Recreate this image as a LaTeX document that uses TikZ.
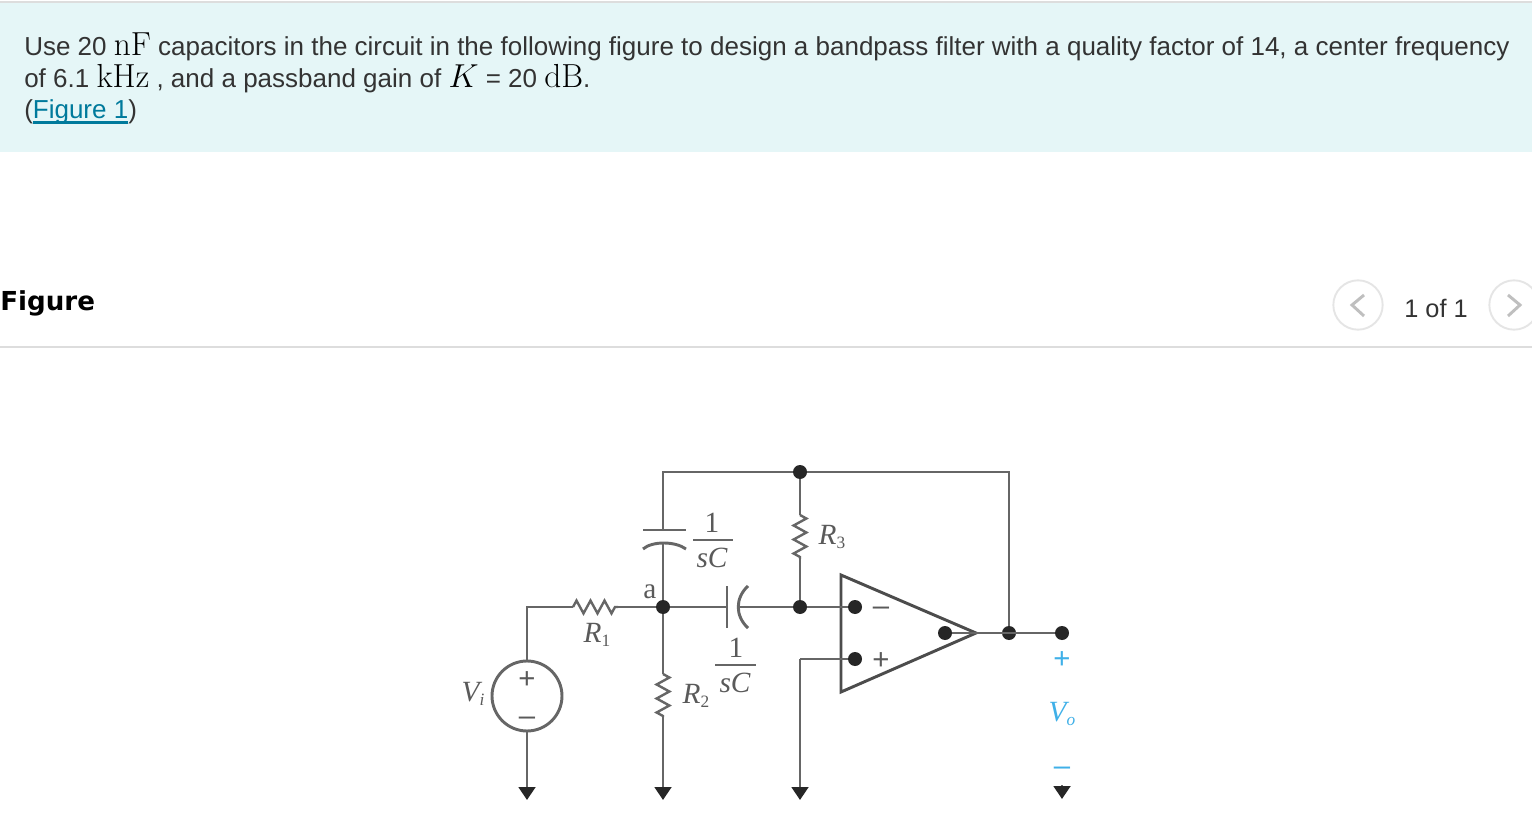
\documentclass[tikz,border=0pt]{standalone}
\usepackage{fontspec}
\setsansfont{Liberation Sans}
\newfontfamily\boldhead{DejaVu Sans}
\newfontfamily\circfont{Liberation Serif}
\usetikzlibrary{arrows.meta,decorations.pathmorphing}
\definecolor{wirecol}{HTML}{666666}
\definecolor{labelcol}{HTML}{5A5A5A}
\definecolor{panelcol}{HTML}{E5F6F7}
\definecolor{rulecol}{HTML}{DDDDDD}
\definecolor{textcol}{HTML}{333333}
\definecolor{linkcol}{HTML}{007A9C}
\definecolor{bluecol}{HTML}{3FB0E8}
\newcommand{\unitfont}{\fontsize{25}{24}\selectfont\rmfamily\color{black}}
\newcommand{\cvar}[2]{{\itshape #1}\raisebox{-3.5pt}{\fontsize{13}{13}\selectfont #2}}
\newcommand{\linktext}[1]{\setbox0=\hbox{#1}\rlap{\rule[-3.4pt]{\wd0}{1.6pt}}\box0}
\tikzset{
  wire/.style={draw=wirecol, line width=2.2pt},
  res/.style={wire, line width=1.8pt, decorate, decoration={zigzag, amplitude=4.8pt, segment length=10.5pt}},
  gnd/.style={wire, -{Triangle[length=9.75pt, width=12.5pt, color=black!85]}},
  dotnode/.style={circle, fill=black!85, inner sep=0pt, minimum size=10.5pt},
  body/.style={anchor=base west, inner sep=0pt, text=textcol, font=\fontsize{19.5}{24}\selectfont\sffamily},
  cval/.style={inner sep=0pt, text=labelcol, font=\fontsize{22}{24}\selectfont\circfont},
  pm/.style={inner sep=0pt, text=labelcol, font=\fontsize{22}{24}\selectfont\sffamily},
  nav/.style={circle, draw=black!10, line width=1.4pt, minimum size=37pt, inner sep=0pt},
  chev/.style={draw=black!25, line width=2.2pt}
}
\begin{document}
\begin{tikzpicture}[x=0.75pt, y=-0.75pt]
  \clip (0,0) rectangle (1532,834);
  \fill[white] (0,0) rectangle (1532,834);

  % Question panel
  \fill[rulecol] (0,1) rectangle (1532,3);
  \fill[panelcol] (0,3) rectangle (1532,152);
  \node[body] (lineone) at (24,56) {Use 20 {\unitfont nF} capacitors in the circuit in the following figure to design a bandpass filter with a quality factor of 14, a center frequency};
  \node[body] (linetwo) at (24,88) {of 6.1 {\unitfont kHz} , and a passband gain of {\unitfont $K$} = 20 {\unitfont dB}.};
  \node[body] (linethree) at (24,119) {(\textcolor{linkcol}{\linktext{Figure 1}})};

  % Figure heading
  \node[anchor=base west, inner sep=0pt, text=black, font=\fontsize{19.6}{26}\selectfont\boldhead\bfseries] (figtitle) at (0,311) {Figure};
  \fill[rulecol] (0,346) rectangle (1532,348);
  \node[nav] (prevbtn) at (1358,305) {};
  \node[nav] (nextbtn) at (1514,305) {};
  \node[body, anchor=base, font=\fontsize{19}{24}\selectfont\sffamily] (pagecount) at (1436,318) {1 of 1};
  \draw[chev] (1364,295) -- (1352,305) -- (1364,316);
  \draw[chev] (1508,295) -- (1520,305) -- (1508,316);

  % Junctions
  \node[dotnode] (top) at (800,472) {};
  \node[dotnode] (a) at (663,607) {};
  \node[dotnode] (inv) at (800,607) {};
  \node[dotnode] (minus) at (855,607) {};
  \node[dotnode] (plus) at (855,659) {};
  \node[dotnode] (out) at (945,633) {};
  \node[dotnode] (fb) at (1009,633) {};
  \node[dotnode] (vo) at (1062,633) {};

  % Corners and free ends
  \coordinate (topleft) at (663,472);
  \coordinate (topright) at (1009,472);
  \coordinate (srctop) at (527,607);
  \coordinate (plusleft) at (800,659);
  \coordinate (gndone) at (527,800);
  \coordinate (gndtwo) at (663,800);
  \coordinate (gndthree) at (800,800);
  \coordinate (gndfourtop) at (1062,785);
  \coordinate (gndfour) at (1062,799);

  % Voltage source
  \node[circle, draw=wirecol, line width=2.2pt, minimum size=52.5pt, inner sep=0pt] (src) at (527,696) {};
  \node[pm] (srcplus) at (527,680) {+};
  \node[pm] (srcminus) at (527,721) {--};
  \node[cval] (vi) at (473,694) {\cvar{V}{\itshape i}};

  % R1
  \coordinate (roneL) at (573,607);
  \coordinate (roneR) at (618,607);
  \draw[wire] (src) -- (srctop) -- (roneL);
  \draw[res] (roneL) -- (roneR);
  \draw[wire] (roneR) -- (a);
  \node[cval] (ronelabel) at (597,635) {\cvar{R}{1}};

  % R2
  \coordinate (rtwoT) at (663,674);
  \coordinate (rtwoB) at (663,717);
  \draw[wire] (a) -- (rtwoT);
  \draw[res] (rtwoT) -- (rtwoB);
  \draw[gnd] (rtwoB) -- (gndtwo);
  \node[cval] (rtwolabel) at (696,696) {\cvar{R}{2}};

  % R3
  \coordinate (rthreeT) at (800,515);
  \coordinate (rthreeB) at (800,559);
  \draw[wire] (top) -- (rthreeT);
  \draw[res] (rthreeT) -- (rthreeB);
  \draw[wire] (rthreeB) -- (inv);
  \node[cval] (rthreelabel) at (832,537) {\cvar{R}{3}};

  % Upper capacitor
  \coordinate (coneT) at (663,530);
  \coordinate (coneB) at (663,543);
  \draw[wire] (a) -- (coneB);
  \draw[wire] (coneT) -- (topleft) -- (top) -- (topright) -- (fb);
  \draw[wire] (643,530) -- (686,530);
  \draw[wire] (643,549) .. controls (652,541) and (675,541) .. (686,549);

  % Lower capacitor
  \coordinate (ctwoL) at (727,607);
  \coordinate (ctwoR) at (737,607);
  \draw[wire] (a) -- (ctwoL);
  \draw[wire] (ctwoR) -- (inv);
  \draw[wire] (727,586) -- (727,628);
  \draw[wire] (748,586) .. controls (735,598) and (735,616) .. (748,628);

  % Impedance labels
  \node[cval] (oneA) at (712,523) {1};
  \draw[wirecol, line width=1.2pt] (693,540) -- (733,540);
  \node[cval] (scA) at (712,558) {\itshape sC};
  \node[cval] (oneB) at (736,648) {1};
  \draw[wirecol, line width=1.2pt] (715,665) -- (756,665);
  \node[cval] (scB) at (735,683) {\itshape sC};
  \node[cval] (alabel) at (650,592) {a};

  % Op amp
  \draw[wire, line join=miter, draw=black!70] (841,575) -- (976,633) -- (841,692) -- cycle;
  \draw[wire] (inv) -- (minus);
  \draw[wire] (plus) -- (plusleft);
  \draw[gnd] (plusleft) -- (gndthree);
  \draw[wire] (out) -- (vo);
  \node[pm] (ampminus) at (881,611) {--};
  \node[pm] (ampplus) at (881,661) {+};

  % Source return
  \draw[gnd] (src) -- (gndone);

  % Output voltage
  \node[pm, text=bluecol] (voplus) at (1062,660) {+};
  \node[cval, text=bluecol] (volabel) at (1062,714) {\cvar{V}{\itshape o}};
  \node[pm, text=bluecol] (vominus) at (1062,771) {--};
  \draw[gnd] (gndfourtop) -- (gndfour);
\end{tikzpicture}
\end{document}
